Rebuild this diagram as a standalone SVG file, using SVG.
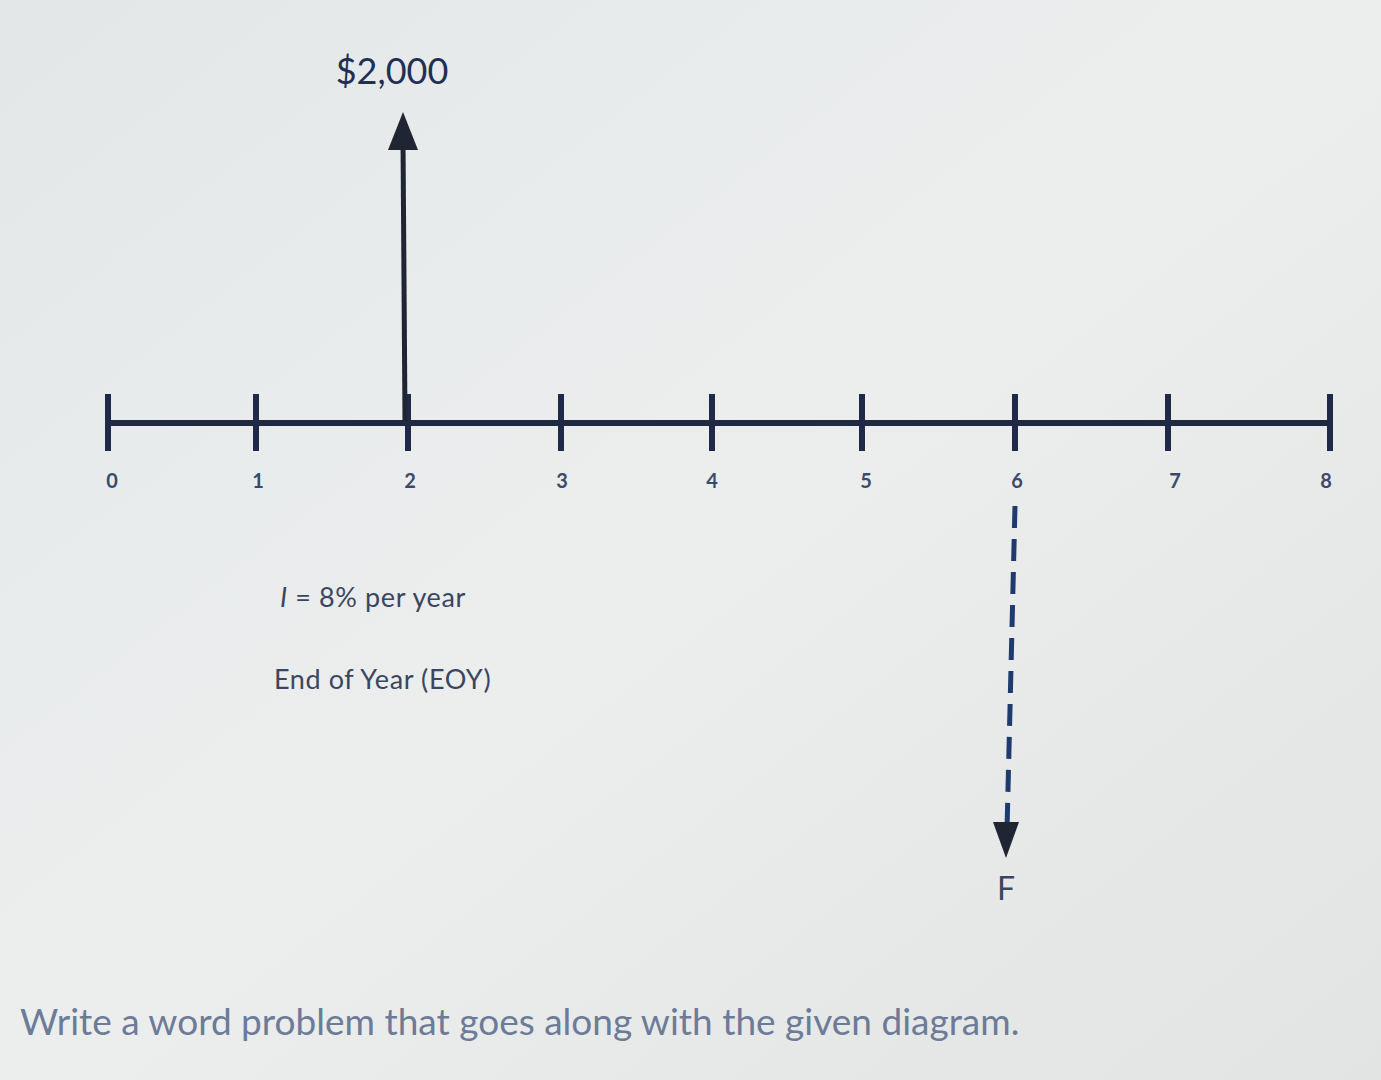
<svg xmlns="http://www.w3.org/2000/svg" width="1381" height="1080" viewBox="0 0 1381 1080">
<defs>
<linearGradient id="bg" x1="0" y1="0" x2="1" y2="1">
<stop offset="0" stop-color="#e4e7e8"/>
<stop offset="0.5" stop-color="#eceeee"/>
<stop offset="1" stop-color="#e2e4e4"/>
</linearGradient>
<marker id="up" viewBox="0 0 30 38" refX="15" refY="0" markerWidth="30" markerHeight="38" markerUnits="userSpaceOnUse" orient="0">
<path d="M15 0 L30 38 L0 38 Z" fill="#1f2533"/>
</marker>
<marker id="down" viewBox="0 0 26 36" refX="13" refY="36" markerWidth="26" markerHeight="36" markerUnits="userSpaceOnUse" orient="0">
<path d="M0 0 L26 0 L13 36 Z" fill="#1f2533"/>
</marker>
</defs>
<style>
.ax{stroke:#1f2a40;stroke-width:6;fill:none}
.tk{stroke:#1f2a48;stroke-width:6}
.num{font-family:Lato,"Liberation Sans",sans-serif;font-weight:bold;font-size:20px;fill:#3b4a6a;text-anchor:middle}
.lbl{font-family:Lato,"Open Sans",sans-serif;font-size:27px;letter-spacing:0.6px;fill:#3a4660}
</style>
<rect width="1381" height="1080" fill="url(#bg)"/>
<g id="axis">
<line class="ax" x1="108" y1="423" x2="1330" y2="423"/>
<line class="tk" x1="108" y1="394" x2="108" y2="451"/>
<line class="tk" x1="256" y1="394" x2="256" y2="451"/>
<line class="tk" x1="408" y1="394" x2="408" y2="451"/>
<line class="tk" x1="561" y1="394" x2="561" y2="451"/>
<line class="tk" x1="712" y1="394" x2="712" y2="451"/>
<line class="tk" x1="862" y1="394" x2="862" y2="451"/>
<line class="tk" x1="1015" y1="394" x2="1015" y2="451"/>
<line class="tk" x1="1168" y1="394" x2="1168" y2="451"/>
<line class="tk" x1="1330" y1="394" x2="1330" y2="451"/>
<text class="num" x="112" y="488">0</text>
<text class="num" x="258" y="488">1</text>
<text class="num" x="410" y="488">2</text>
<text class="num" x="562" y="488">3</text>
<text class="num" x="712" y="488">4</text>
<text class="num" x="866" y="488">5</text>
<text class="num" x="1017" y="488">6</text>
<text class="num" x="1175" y="488">7</text>
<text class="num" x="1326" y="488">8</text>
</g>
<g id="connectors">
<line x1="405" y1="421" x2="403" y2="140" stroke="#1f2533" stroke-width="5"/>
<line x1="403" y1="112" x2="403" y2="112" stroke="none" marker-end="url(#up)"/>
<line x1="1015" y1="506" x2="1007" y2="830" stroke="#1f3a6e" stroke-width="5" stroke-dasharray="22,11"/>
<line x1="1006" y1="858" x2="1006" y2="858" stroke="none" marker-end="url(#down)"/>
</g>
<g id="payment">
<text x="392" y="84" font-family="Lato,'Liberation Sans',sans-serif" font-size="36" fill="#1f2f55" text-anchor="middle">$2,000</text>
</g>
<g id="future">
<text x="1006" y="900" font-family="Lato,'Liberation Sans',sans-serif" font-size="32" fill="#3a4660" text-anchor="middle">F</text>
</g>
<g id="notes">
<text class="lbl" x="280" y="607"><tspan font-style="italic">I</tspan> = 8% per year</text>
<text class="lbl" x="274" y="689">End of Year (EOY)</text>
</g>
<text x="20" y="1035" font-family="Lato,'Liberation Sans',sans-serif" font-size="37" fill="#6c7b98">Write a word problem that goes along with the given diagram.</text>
</svg>
